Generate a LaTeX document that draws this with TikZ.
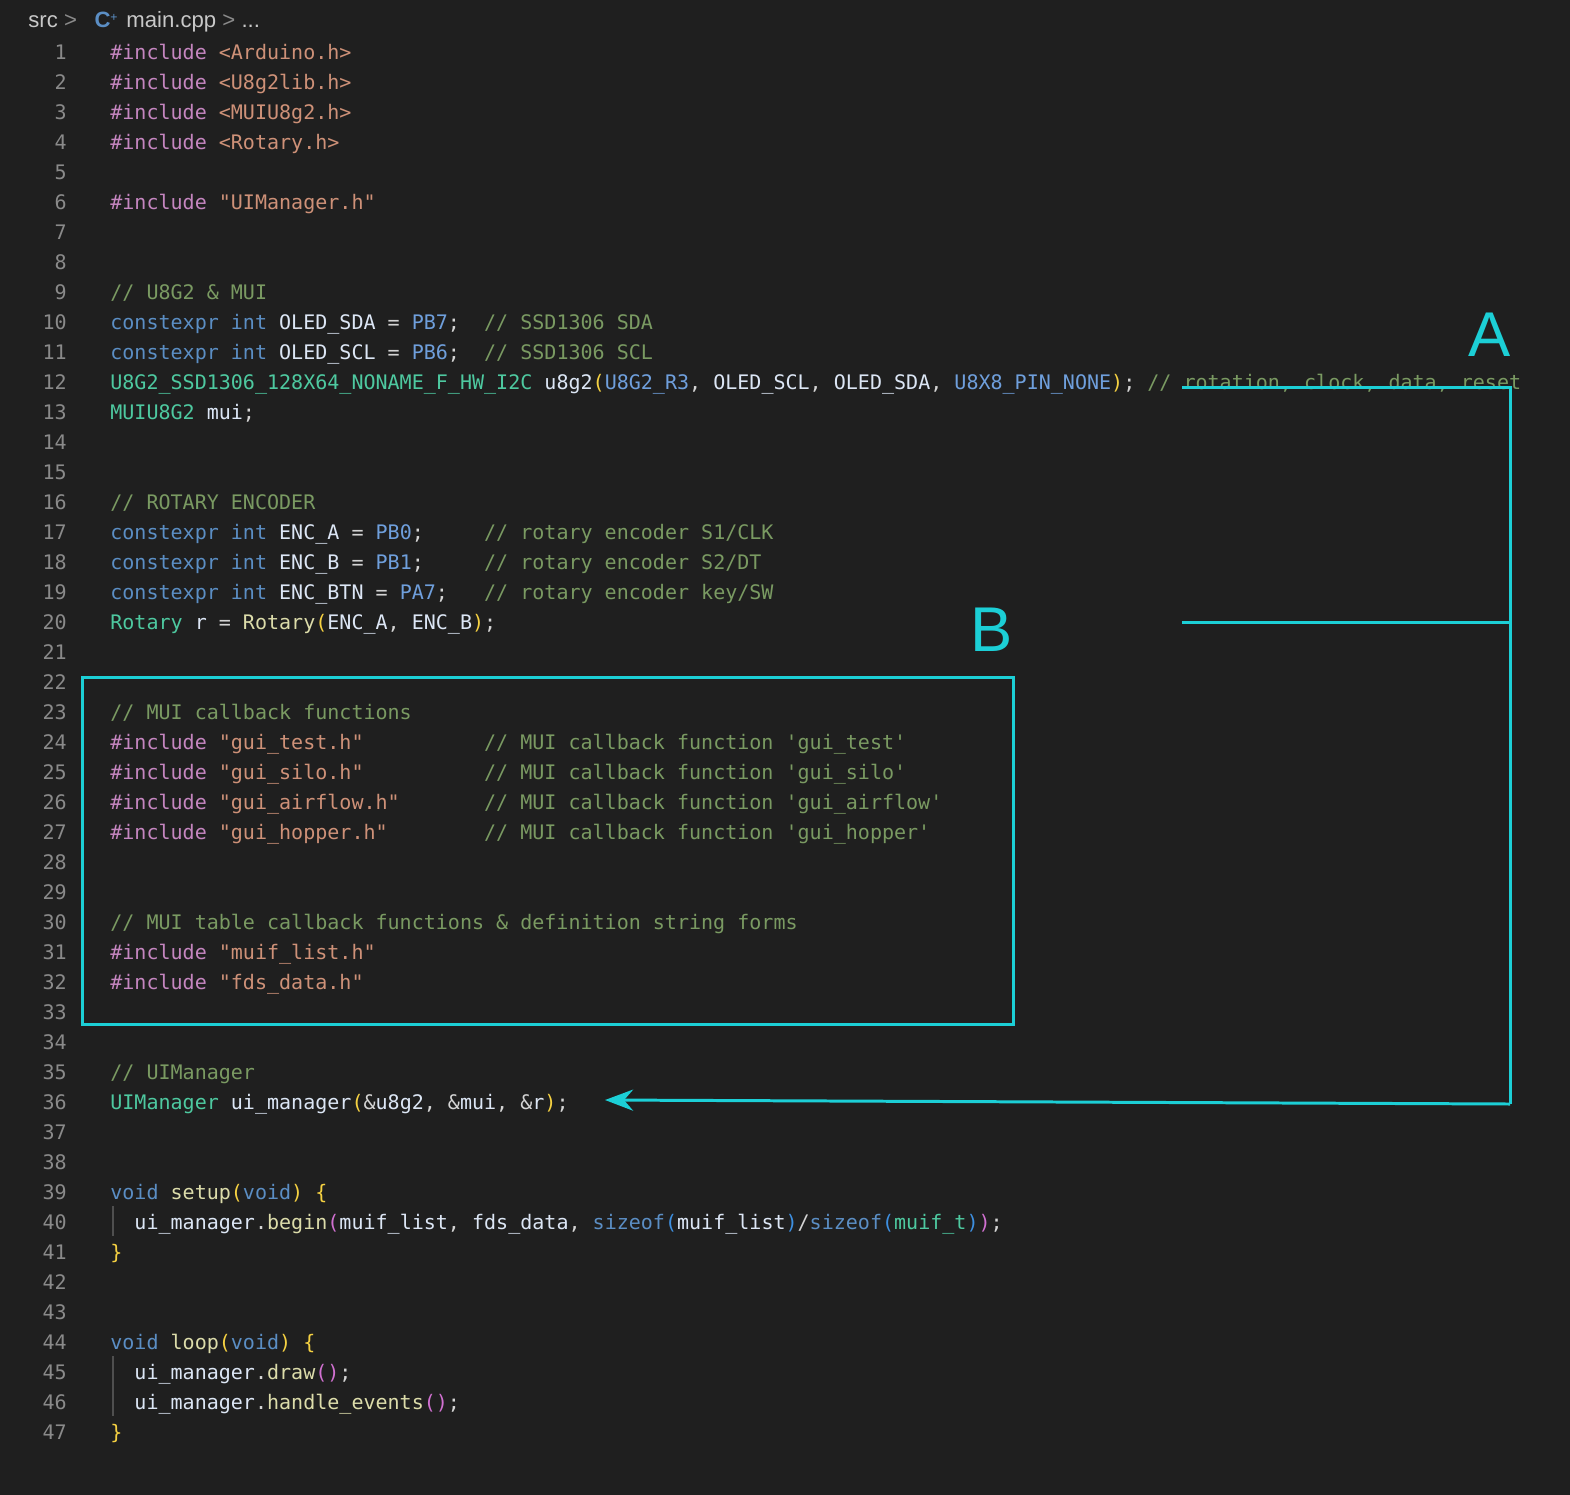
\documentclass[tikz,border=0pt]{standalone}
\usepackage{fontspec}
\setmainfont{Liberation Sans}
\setmonofont{DejaVu Sans Mono}
\usetikzlibrary{arrows.meta}
\definecolor{bg}{HTML}{1F1F1F}
\definecolor{lnum}{HTML}{8A8A8A}
\definecolor{hdrc}{HTML}{C8C8C8}
\definecolor{ckw}{HTML}{C586C0}
\definecolor{cstr}{HTML}{CE9178}
\definecolor{ccom}{HTML}{7A9A62}
\definecolor{cblu}{HTML}{5B8EC4}
\definecolor{cvar}{HTML}{DCE6F5}
\definecolor{ccon}{HTML}{6F9FDC}
\definecolor{ctyp}{HTML}{4EC9A0}
\definecolor{cfun}{HTML}{DCDCAA}
\definecolor{cgold}{HTML}{F5D142}
\definecolor{corc}{HTML}{D070D0}
\definecolor{cbbr}{HTML}{3D8FE0}
\definecolor{cdef}{HTML}{D4D4D4}
\definecolor{cyan}{HTML}{1CCFD6}
\newcommand\K[1]{\textcolor{ckw}{#1}}
\newcommand\St[1]{\textcolor{cstr}{#1}}
\newcommand\Cm[1]{\textcolor{ccom}{#1}}
\newcommand\Bl[1]{\textcolor{cblu}{#1}}
\newcommand\V[1]{\textcolor{cvar}{#1}}
\newcommand\Nc[1]{\textcolor{ccon}{#1}}
\newcommand\Ty[1]{\textcolor{ctyp}{#1}}
\newcommand\Fn[1]{\textcolor{cfun}{#1}}
\newcommand\Yb[1]{\textcolor{cgold}{#1}}
\newcommand\Ob[1]{\textcolor{corc}{#1}}
\newcommand\Bb[1]{\textcolor{cbbr}{#1}}
\tikzset{
  codeline/.style={anchor=base west,inner sep=0pt,text=cdef,font=\ttfamily\fontsize{11.4}{13}\selectfont},
  numline/.style={anchor=base east,inner sep=0pt,text=lnum,font=\ttfamily\fontsize{11.4}{13}\selectfont},
  bigletter/.style={inner sep=0pt,text=cyan,font=\fontsize{36}{40}\selectfont},
  mark line/.style={draw=cyan,line width=1.7pt},
  guide/.style={draw=lnum!45!bg,line width=0.6pt}
}
\newcommand\cl[2]{%
  \node[codeline] (l#1) at (110,{52+30*(#1-1)+7}) {#2};}
\begin{document}
\begin{tikzpicture}[x=0.02cm,y=-0.02cm]
\fill[bg] (0,0) rectangle (1570,1495);
\useasboundingbox (0,0) rectangle (1570,1495);
\clip (0,0) rectangle (1570,1495);
\node[anchor=base west,inner sep=0pt,text=hdrc,font=\fontsize{12.6}{14}\selectfont] (hdr) at (28,27)
  {src \textcolor{lnum}{\textgreater}\hspace{10pt}\textcolor{cblu}{\textbf{C}\raisebox{3pt}{\scriptsize+}}\hspace{5pt}main.cpp \textcolor{lnum}{\textgreater} ...};
\foreach \i in {1,...,47} {\node[numline] (n\i) at (67,{52+30*(\i-1)+7}) {\i};}
\cl{1}{\K{\#include} \St{<Arduino.h>}}
\cl{2}{\K{\#include} \St{<U8g2lib.h>}}
\cl{3}{\K{\#include} \St{<MUIU8g2.h>}}
\cl{4}{\K{\#include} \St{<Rotary.h>}}
\cl{6}{\K{\#include} \St{"UIManager.h"}}
\cl{9}{\Cm{// U8G2 \& MUI}}
\cl{10}{\Bl{constexpr} \Bl{int} \V{OLED\_SDA} = \Nc{PB7};~~\Cm{// SSD1306 SDA}}
\cl{11}{\Bl{constexpr} \Bl{int} \V{OLED\_SCL} = \Nc{PB6};~~\Cm{// SSD1306 SCL}}
\cl{12}{\Ty{U8G2\_SSD1306\_128X64\_NONAME\_F\_HW\_I2C} \V{u8g2}\Yb{(}\Nc{U8G2\_R3}, \V{OLED\_SCL}, \V{OLED\_SDA}, \Nc{U8X8\_PIN\_NONE}\Yb{)}; \Cm{// rotation, clock, data, reset}}
\cl{13}{\Ty{MUIU8G2} \V{mui};}
\cl{16}{\Cm{// ROTARY ENCODER}}
\cl{17}{\Bl{constexpr} \Bl{int} \V{ENC\_A} = \Nc{PB0};~~~~~\Cm{// rotary encoder S1/CLK}}
\cl{18}{\Bl{constexpr} \Bl{int} \V{ENC\_B} = \Nc{PB1};~~~~~\Cm{// rotary encoder S2/DT}}
\cl{19}{\Bl{constexpr} \Bl{int} \V{ENC\_BTN} = \Nc{PA7};~~~\Cm{// rotary encoder key/SW}}
\cl{20}{\Ty{Rotary} \V{r} = \Fn{Rotary}\Yb{(}\V{ENC\_A}, \V{ENC\_B}\Yb{)};}
\cl{23}{\Cm{// MUI callback functions}}
\cl{24}{\K{\#include} \St{"gui\_test.h"}~~~~~~~~~~\Cm{// MUI callback function 'gui\_test'}}
\cl{25}{\K{\#include} \St{"gui\_silo.h"}~~~~~~~~~~\Cm{// MUI callback function 'gui\_silo'}}
\cl{26}{\K{\#include} \St{"gui\_airflow.h"}~~~~~~~\Cm{// MUI callback function 'gui\_airflow'}}
\cl{27}{\K{\#include} \St{"gui\_hopper.h"}~~~~~~~~\Cm{// MUI callback function 'gui\_hopper'}}
\cl{30}{\Cm{// MUI table callback functions \& definition string forms}}
\cl{31}{\K{\#include} \St{"muif\_list.h"}}
\cl{32}{\K{\#include} \St{"fds\_data.h"}}
\cl{35}{\Cm{// UIManager}}
\cl{36}{\Ty{UIManager} \V{ui\_manager}\Yb{(}\&\V{u8g2}, \&\V{mui}, \&\V{r}\Yb{)};}
\cl{39}{\Bl{void} \Fn{setup}\Yb{(}\Bl{void}\Yb{)} \Yb{\{}}
\cl{40}{~~\V{ui\_manager}.\Fn{begin}\Ob{(}\V{muif\_list}, \V{fds\_data}, \Bl{sizeof}\Bb{(}\V{muif\_list}\Bb{)}/\Bl{sizeof}\Bb{(}\Ty{muif\_t}\Bb{)}\Ob{)};}
\cl{41}{\Yb{\}}}
\cl{44}{\Bl{void} \Fn{loop}\Yb{(}\Bl{void}\Yb{)} \Yb{\{}}
\cl{45}{~~\V{ui\_manager}.\Fn{draw}\Ob{()};}
\cl{46}{~~\V{ui\_manager}.\Fn{handle\_events}\Ob{()};}
\cl{47}{\Yb{\}}}
% indent guides
\draw[guide] (113,1206) -- (113,1236);
\draw[guide] (113,1356) -- (113,1416);
% box B
\node[draw=cyan,line width=1.7pt,minimum width=931*0.02cm,minimum height=347*0.02cm,anchor=north west,inner sep=0pt] (boxB) at (81,676) {};
\node[bigletter] (labB) at (992,630) {B};
\node[bigletter] (labA) at (1490,335) {A};
% connectors
\coordinate (a0) at (1182,387);
\coordinate (a1) at (1510,387);
\coordinate (b0) at (1182,622);
\coordinate (b1) at (1510,622);
\coordinate (c1) at (1510,1104);
\coordinate (tip) at (605,1100);
\draw[mark line] (a0) -- (a1) -- (c1);
\draw[mark line] (b0) -- (b1);
\draw[mark line,-{Stealth[length=16pt,width=12pt]}] (c1) -- (tip);
\end{tikzpicture}
\end{document}
